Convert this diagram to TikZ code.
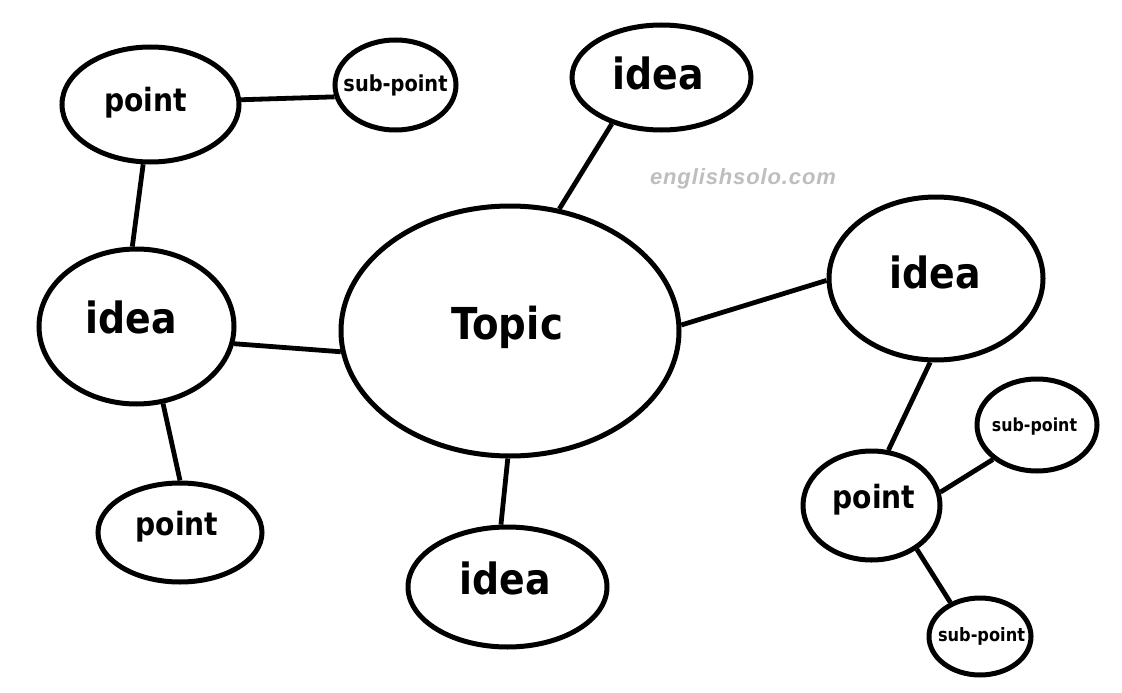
\documentclass[tikz,border=0pt]{standalone}
\usepackage{fontspec}
\usetikzlibrary{shapes.geometric}
\newfontfamily\diagfont[FakeStretch=0.88]{DejaVu Sans}
\newfontfamily\wmfont[LetterSpace=4]{Liberation Sans}
\definecolor{wmgray}{RGB}{190,190,190}
\begin{document}
\begin{tikzpicture}[x=1pt,y=-1pt,
  bub/.style={draw=black, line width=5pt, ellipse, inner sep=0pt, fill=white},
  conn/.style={line width=4.8pt, draw=black},
  lbl/.style={anchor=base, inner sep=0pt, font={\diagfont\bfseries\fontsize{#1}{#1}\selectfont}}]
\fill[white] (0,0) rectangle (1122,693);
\useasboundingbox (0,0) rectangle (1122,693);
% bubbles
\node[bub, minimum width=338pt, minimum height=250pt] (topic) at (510,331) {};
\node[bub, minimum width=179pt, minimum height=105pt] (ideaT) at (661.5,77.5) {};
\node[bub, minimum width=214pt, minimum height=163pt] (ideaR) at (936,278.5) {};
\node[bub, minimum width=199pt, minimum height=120pt] (ideaB) at (507.5,587) {};
\node[bub, minimum width=195pt, minimum height=155pt] (ideaL) at (136.5,326.5) {};
\node[bub, minimum width=177pt, minimum height=115pt] (pointTL) at (150.5,104.5) {};
\node[bub, minimum width=121pt, minimum height=90pt] (subT) at (395.5,85) {};
\node[bub, minimum width=164pt, minimum height=99pt] (pointBL) at (180,532.5) {};
\node[bub, minimum width=137pt, minimum height=109pt] (pointR) at (871.5,505.5) {};
\node[bub, minimum width=120pt, minimum height=92pt] (subR1) at (1037,425) {};
\node[bub, minimum width=102pt, minimum height=77pt] (subR2) at (980,636.5) {};
% labels
\node[lbl=44] (topicT) at (507,339) {Topic};
\node[lbl=43] (ideaTT) at (658,89) {idea};
\node[lbl=43] (ideaRT) at (935.5,288) {idea};
\node[lbl=43] (ideaBT) at (505.5,594) {idea};
\node[lbl=43] (ideaLT) at (131.5,333) {idea};
\node[lbl=32] (pointTLT) at (145.5,111) {point};
\node[lbl=32] (pointBLT) at (177,535) {point};
\node[lbl=32] (pointRT) at (874,508) {point};
\node[lbl=22] (subTT) at (395.5,92) {sub-point};
\node[lbl=18] (subR1T) at (1034.5,431) {sub-point};
\node[lbl=18.4] (subR2T) at (981.5,641.5) {sub-point};
% watermark
\node[anchor=base, inner sep=0pt, text=wmgray, font={\wmfont\bfseries\itshape\fontsize{22}{22}\selectfont}] (wm) at (743,184) {englishsolo.com};
% connectors
\draw[conn] (topic.68) -- (ideaT.223);
\draw[conn] (topic.2) -- (ideaR.181);
\draw[conn] (topic.187) -- (ideaL.-10);
\draw[conn] (topic.269) -- (ideaB.96);
\draw[conn] (ideaL.93) -- (pointTL.263);
\draw[conn] (pointTL.3) -- (subT.191);
\draw[conn] (ideaL.-71) -- (pointBL.90);
\draw[conn] (ideaR.266) -- (pointR.73);
\draw[conn] (pointR.11) -- (subR1.218);
\draw[conn] (pointR.-44) -- (subR2.131);
\end{tikzpicture}
\end{document}
